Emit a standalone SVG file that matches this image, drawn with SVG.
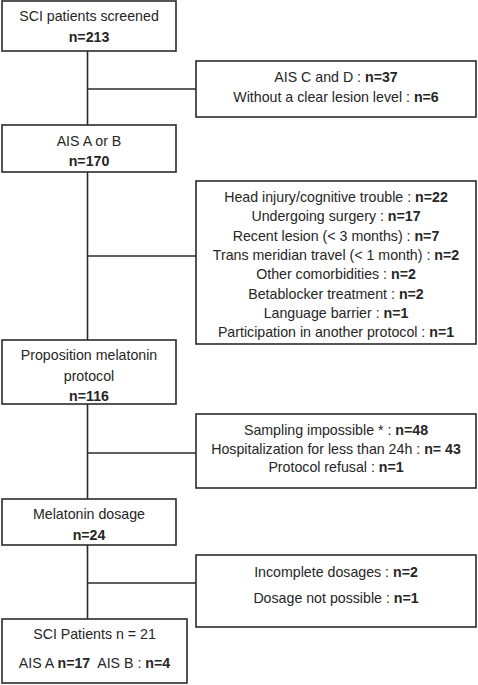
<svg xmlns="http://www.w3.org/2000/svg" width="478" height="685" viewBox="0 0 478 685">
<style>
.box{fill:#fff;stroke:#2b2b2b;stroke-width:1.6}
.ln{stroke:#2b2b2b;stroke-width:1.6;fill:none}
text{font-family:"Liberation Sans",Arial,sans-serif;font-size:14.2px;fill:#262626;text-anchor:middle;dominant-baseline:central}
.b{font-weight:bold}
</style>
<rect width="478" height="685" fill="#fff"/>
<g id="connectors">
<line class="ln" x1="87.5" y1="51" x2="87.5" y2="125"/>
<line class="ln" x1="87.5" y1="89" x2="196" y2="89"/>
<line class="ln" x1="87.5" y1="172" x2="87.5" y2="340"/>
<line class="ln" x1="87.5" y1="256" x2="196" y2="256"/>
<line class="ln" x1="87.5" y1="404" x2="87.5" y2="499"/>
<line class="ln" x1="87.5" y1="453" x2="196" y2="453"/>
<line class="ln" x1="87.5" y1="545" x2="87.5" y2="619"/>
<line class="ln" x1="87.5" y1="583" x2="196" y2="583"/>
</g>
<g id="n1">
<rect class="box" x="2" y="1" width="174" height="50"/>
<text x="89" y="16">SCI patients screened</text>
<text x="89" y="37" class="b">n=213</text>
</g>
<g id="n2">
<rect class="box" x="196" y="61" width="280" height="56"/>
<text x="336" y="77">AIS C and D : <tspan class="b">n=37</tspan></text>
<text x="336" y="97">Without a clear lesion level : <tspan class="b">n=6</tspan></text>
</g>
<g id="n3">
<rect class="box" x="2" y="125" width="174" height="47"/>
<text x="89" y="141">AIS A or B</text>
<text x="89" y="161" class="b">n=170</text>
</g>
<g id="n4">
<rect class="box" x="196" y="181" width="280" height="163"/>
<text x="336" y="197">Head injury/cognitive trouble : <tspan class="b">n=22</tspan></text>
<text x="336" y="216.3">Undergoing surgery : <tspan class="b">n=17</tspan></text>
<text x="336" y="235.6">Recent lesion (&lt; 3 months) : <tspan class="b">n=7</tspan></text>
<text x="336" y="254.9">Trans meridian travel (&lt; 1 month) : <tspan class="b">n=2</tspan></text>
<text x="336" y="274.2">Other comorbidities : <tspan class="b">n=2</tspan></text>
<text x="336" y="293.5">Betablocker treatment : <tspan class="b">n=2</tspan></text>
<text x="336" y="312.8">Language barrier : <tspan class="b">n=1</tspan></text>
<text x="336" y="332">Participation in another protocol : <tspan class="b">n=1</tspan></text>
</g>
<g id="n5">
<rect class="box" x="2" y="340" width="174" height="64"/>
<text x="89" y="355">Proposition melatonin</text>
<text x="89" y="376">protocol</text>
<text x="89" y="396" class="b">n=116</text>
</g>
<g id="n6">
<rect class="box" x="196" y="414" width="280" height="74"/>
<text x="336" y="430">Sampling impossible * : <tspan class="b">n=48</tspan></text>
<text x="336" y="448.5">Hospitalization for less than 24h : <tspan class="b">n= 43</tspan></text>
<text x="336" y="467">Protocol refusal : <tspan class="b">n=1</tspan></text>
</g>
<g id="n7">
<rect class="box" x="2" y="499" width="174" height="46"/>
<text x="89" y="514">Melatonin dosage</text>
<text x="89" y="535" class="b">n=24</text>
</g>
<g id="n8">
<rect class="box" x="196" y="555" width="280" height="72"/>
<text x="336" y="571.5">Incomplete dosages : <tspan class="b">n=2</tspan></text>
<text x="336" y="597.5">Dosage not possible : <tspan class="b">n=1</tspan></text>
</g>
<g id="n9">
<rect class="box" x="2" y="619" width="185" height="64"/>
<text x="94.5" y="634">SCI Patients n = 21</text>
<text x="94.5" y="663">AIS A <tspan class="b">n=17</tspan><tspan dx="7">AIS B : </tspan><tspan class="b">n=4</tspan></text>
</g>
</svg>
